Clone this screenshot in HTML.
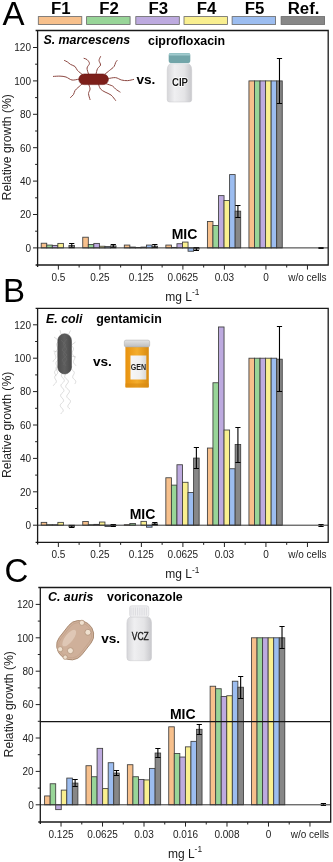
<!DOCTYPE html>
<html><head><meta charset="utf-8"><style>
html,body{margin:0;padding:0;background:#fff;}
svg{display:block;will-change:transform;}
</style></head><body>
<svg width="333" height="862" viewBox="0 0 333 862" font-family="Liberation Sans, sans-serif">
<rect width="333" height="862" fill="#fff"/>
<rect x="38.30" y="16.6" width="43.5" height="7.8" fill="#F7C08C" stroke="#666" stroke-width="0.8"/>
<text x="60.80" y="14.2" font-size="16.8" font-weight="bold" text-anchor="middle">F1</text>
<rect x="86.60" y="16.6" width="43.5" height="7.8" fill="#98D598" stroke="#666" stroke-width="0.8"/>
<text x="109.10" y="14.2" font-size="16.8" font-weight="bold" text-anchor="middle">F2</text>
<rect x="135.80" y="16.6" width="43.5" height="7.8" fill="#BDAADF" stroke="#666" stroke-width="0.8"/>
<text x="158.30" y="14.2" font-size="16.8" font-weight="bold" text-anchor="middle">F3</text>
<rect x="184.00" y="16.6" width="43.5" height="7.8" fill="#F9EF90" stroke="#666" stroke-width="0.8"/>
<text x="206.50" y="14.2" font-size="16.8" font-weight="bold" text-anchor="middle">F4</text>
<rect x="232.10" y="16.6" width="43.5" height="7.8" fill="#9CBDF0" stroke="#666" stroke-width="0.8"/>
<text x="254.60" y="14.2" font-size="16.8" font-weight="bold" text-anchor="middle">F5</text>
<rect x="281.10" y="16.6" width="43.5" height="7.8" fill="#878787" stroke="#666" stroke-width="0.8"/>
<text x="303.60" y="14.2" font-size="16.8" font-weight="bold" text-anchor="middle">Ref.</text>
<text x="2.6" y="25.20" font-size="33" >A</text>
<rect x="41.20" y="243.22" width="5.55" height="4.68" fill="#F7C08C" stroke="#3c3c3c" stroke-width="0.85"/>
<rect x="46.75" y="245.06" width="5.55" height="2.84" fill="#98D598" stroke="#3c3c3c" stroke-width="0.85"/>
<rect x="52.30" y="245.40" width="5.55" height="2.50" fill="#BDAADF" stroke="#3c3c3c" stroke-width="0.85"/>
<rect x="57.85" y="243.39" width="5.55" height="4.51" fill="#F9EF90" stroke="#3c3c3c" stroke-width="0.85"/>
<rect x="68.95" y="245.40" width="5.55" height="2.50" fill="#878787" stroke="#3c3c3c" stroke-width="0.85"/>
<path d="M71.73 243.50V247.50M69.13 243.50H74.33M69.13 247.50H74.33" stroke="#000" stroke-width="1.1" fill="none"/>
<rect x="82.75" y="237.21" width="5.55" height="10.69" fill="#F7C08C" stroke="#3c3c3c" stroke-width="0.85"/>
<rect x="88.30" y="244.56" width="5.55" height="3.34" fill="#98D598" stroke="#3c3c3c" stroke-width="0.85"/>
<rect x="93.85" y="243.39" width="5.55" height="4.51" fill="#BDAADF" stroke="#3c3c3c" stroke-width="0.85"/>
<rect x="99.40" y="246.23" width="5.55" height="1.67" fill="#F9EF90" stroke="#3c3c3c" stroke-width="0.85"/>
<rect x="104.95" y="246.56" width="5.55" height="1.34" fill="#9CBDF0" stroke="#3c3c3c" stroke-width="0.85"/>
<rect x="110.50" y="245.90" width="5.55" height="2.00" fill="#878787" stroke="#3c3c3c" stroke-width="0.85"/>
<path d="M113.28 244.50V247.50M110.68 244.50H115.88M110.68 247.50H115.88" stroke="#000" stroke-width="1.1" fill="none"/>
<rect x="124.30" y="245.06" width="5.55" height="2.84" fill="#F7C08C" stroke="#3c3c3c" stroke-width="0.85"/>
<rect x="129.85" y="247.06" width="5.55" height="0.84" fill="#98D598" stroke="#3c3c3c" stroke-width="0.85"/>
<rect x="135.40" y="247.57" width="5.55" height="0.33" fill="#BDAADF" stroke="#3c3c3c" stroke-width="0.85"/>
<rect x="140.95" y="247.06" width="5.55" height="0.84" fill="#F9EF90" stroke="#3c3c3c" stroke-width="0.85"/>
<rect x="146.50" y="245.06" width="5.55" height="2.84" fill="#9CBDF0" stroke="#3c3c3c" stroke-width="0.85"/>
<rect x="152.05" y="246.23" width="5.55" height="1.67" fill="#878787" stroke="#3c3c3c" stroke-width="0.85"/>
<path d="M154.82 244.50V247.50M152.22 244.50H157.42M152.22 247.50H157.42" stroke="#000" stroke-width="1.1" fill="none"/>
<rect x="165.85" y="245.06" width="5.55" height="2.84" fill="#F7C08C" stroke="#3c3c3c" stroke-width="0.85"/>
<rect x="171.40" y="247.40" width="5.55" height="0.50" fill="#98D598" stroke="#3c3c3c" stroke-width="0.85"/>
<rect x="176.95" y="243.72" width="5.55" height="4.18" fill="#BDAADF" stroke="#3c3c3c" stroke-width="0.85"/>
<rect x="182.50" y="242.06" width="5.55" height="5.84" fill="#F9EF90" stroke="#3c3c3c" stroke-width="0.85"/>
<rect x="188.05" y="247.90" width="5.55" height="3.34" fill="#9CBDF0" stroke="#3c3c3c" stroke-width="0.85"/>
<rect x="193.60" y="247.90" width="5.55" height="1.17" fill="#878787" stroke="#3c3c3c" stroke-width="0.85"/>
<path d="M196.38 247.50V250.50M193.78 247.50H198.97M193.78 250.50H198.97" stroke="#000" stroke-width="1.1" fill="none"/>
<rect x="207.40" y="221.51" width="5.55" height="26.39" fill="#F7C08C" stroke="#3c3c3c" stroke-width="0.85"/>
<rect x="212.95" y="225.52" width="5.55" height="22.38" fill="#98D598" stroke="#3c3c3c" stroke-width="0.85"/>
<rect x="218.50" y="195.63" width="5.55" height="52.27" fill="#BDAADF" stroke="#3c3c3c" stroke-width="0.85"/>
<rect x="224.05" y="200.47" width="5.55" height="47.43" fill="#F9EF90" stroke="#3c3c3c" stroke-width="0.85"/>
<rect x="229.60" y="174.59" width="5.55" height="73.31" fill="#9CBDF0" stroke="#3c3c3c" stroke-width="0.85"/>
<rect x="235.15" y="211.16" width="5.55" height="36.74" fill="#878787" stroke="#3c3c3c" stroke-width="0.85"/>
<path d="M237.92 205.50V217.50M235.32 205.50H240.52M235.32 217.50H240.52" stroke="#000" stroke-width="1.1" fill="none"/>
<rect x="248.95" y="80.90" width="5.55" height="167.00" fill="#F7C08C" stroke="#3c3c3c" stroke-width="0.85"/>
<rect x="254.50" y="80.90" width="5.55" height="167.00" fill="#98D598" stroke="#3c3c3c" stroke-width="0.85"/>
<rect x="260.05" y="80.90" width="5.55" height="167.00" fill="#BDAADF" stroke="#3c3c3c" stroke-width="0.85"/>
<rect x="265.60" y="80.90" width="5.55" height="167.00" fill="#F9EF90" stroke="#3c3c3c" stroke-width="0.85"/>
<rect x="271.15" y="80.90" width="5.55" height="167.00" fill="#9CBDF0" stroke="#3c3c3c" stroke-width="0.85"/>
<rect x="276.70" y="80.90" width="5.55" height="167.00" fill="#878787" stroke="#3c3c3c" stroke-width="0.85"/>
<path d="M279.48 58.50V103.50M276.88 58.50H282.08M276.88 103.50H282.08" stroke="#000" stroke-width="1.1" fill="none"/>
<path d="M321.02 247.50V248.50M318.42 247.50H323.62M318.42 248.50H323.62" stroke="#000" stroke-width="1.1" fill="none"/>
<line x1="37.60" y1="247.90" x2="328.20" y2="247.90" stroke="#333" stroke-width="1"/>
<path d="M35.60 30.50H328.20V265.00H35.60M37.60 30.50V267.00" stroke="#1a1a1a" stroke-width="1.3" fill="none"/>
<line x1="33.00" y1="247.90" x2="37.60" y2="247.90" stroke="#222" stroke-width="1"/>
<text x="31.00" y="251.70" font-size="10" text-anchor="end" fill="#222">0</text>
<line x1="35.10" y1="231.20" x2="37.60" y2="231.20" stroke="#222" stroke-width="1"/>
<line x1="33.00" y1="214.50" x2="37.60" y2="214.50" stroke="#222" stroke-width="1"/>
<text x="31.00" y="218.30" font-size="10" text-anchor="end" fill="#222">20</text>
<line x1="35.10" y1="197.80" x2="37.60" y2="197.80" stroke="#222" stroke-width="1"/>
<line x1="33.00" y1="181.10" x2="37.60" y2="181.10" stroke="#222" stroke-width="1"/>
<text x="31.00" y="184.90" font-size="10" text-anchor="end" fill="#222">40</text>
<line x1="35.10" y1="164.40" x2="37.60" y2="164.40" stroke="#222" stroke-width="1"/>
<line x1="33.00" y1="147.70" x2="37.60" y2="147.70" stroke="#222" stroke-width="1"/>
<text x="31.00" y="151.50" font-size="10" text-anchor="end" fill="#222">60</text>
<line x1="35.10" y1="131.00" x2="37.60" y2="131.00" stroke="#222" stroke-width="1"/>
<line x1="33.00" y1="114.30" x2="37.60" y2="114.30" stroke="#222" stroke-width="1"/>
<text x="31.00" y="118.10" font-size="10" text-anchor="end" fill="#222">80</text>
<line x1="35.10" y1="97.60" x2="37.60" y2="97.60" stroke="#222" stroke-width="1"/>
<line x1="33.00" y1="80.90" x2="37.60" y2="80.90" stroke="#222" stroke-width="1"/>
<text x="31.00" y="84.70" font-size="10" text-anchor="end" fill="#222">100</text>
<line x1="35.10" y1="64.20" x2="37.60" y2="64.20" stroke="#222" stroke-width="1"/>
<line x1="33.00" y1="47.50" x2="37.60" y2="47.50" stroke="#222" stroke-width="1"/>
<text x="31.00" y="51.30" font-size="10" text-anchor="end" fill="#222">120</text>
<line x1="79.11" y1="265.00" x2="79.11" y2="267.50" stroke="#222" stroke-width="1"/>
<line x1="120.63" y1="265.00" x2="120.63" y2="267.50" stroke="#222" stroke-width="1"/>
<line x1="162.14" y1="265.00" x2="162.14" y2="267.50" stroke="#222" stroke-width="1"/>
<line x1="203.66" y1="265.00" x2="203.66" y2="267.50" stroke="#222" stroke-width="1"/>
<line x1="245.17" y1="265.00" x2="245.17" y2="267.50" stroke="#222" stroke-width="1"/>
<line x1="286.69" y1="265.00" x2="286.69" y2="267.50" stroke="#222" stroke-width="1"/>
<line x1="58.36" y1="265.00" x2="58.36" y2="269.60" stroke="#222" stroke-width="1"/>
<text x="58.36" y="280.80" font-size="10" text-anchor="middle" fill="#222">0.5</text>
<line x1="99.87" y1="265.00" x2="99.87" y2="269.60" stroke="#222" stroke-width="1"/>
<text x="99.87" y="280.80" font-size="10" text-anchor="middle" fill="#222">0.25</text>
<line x1="141.39" y1="265.00" x2="141.39" y2="269.60" stroke="#222" stroke-width="1"/>
<text x="141.39" y="280.80" font-size="10" text-anchor="middle" fill="#222">0.125</text>
<line x1="182.90" y1="265.00" x2="182.90" y2="269.60" stroke="#222" stroke-width="1"/>
<text x="182.90" y="280.80" font-size="10" text-anchor="middle" fill="#222">0.0625</text>
<line x1="224.41" y1="265.00" x2="224.41" y2="269.60" stroke="#222" stroke-width="1"/>
<text x="224.41" y="280.80" font-size="10" text-anchor="middle" fill="#222">0.03</text>
<line x1="265.93" y1="265.00" x2="265.93" y2="269.60" stroke="#222" stroke-width="1"/>
<text x="265.93" y="280.80" font-size="10" text-anchor="middle" fill="#222">0</text>
<line x1="307.44" y1="265.00" x2="307.44" y2="269.60" stroke="#222" stroke-width="1"/>
<text x="307.44" y="280.80" font-size="10" text-anchor="middle" fill="#222">w/o cells</text>
<text x="182.40" y="300.50" font-size="12" text-anchor="middle" fill="#1a1a1a">mg L<tspan font-size="8.4" dy="-5.4">-1</tspan></text>
<text transform="translate(10.5,147.25) rotate(-90)" font-size="12.2" text-anchor="middle" fill="#222">Relative growth (%)</text>
<text x="184.50" y="239.00" font-size="14" font-weight="bold" text-anchor="middle">MIC</text>
<text x="2.9" y="302.20" font-size="33" >B</text>
<rect x="41.20" y="522.36" width="5.55" height="2.84" fill="#F7C08C" stroke="#3c3c3c" stroke-width="0.85"/>
<rect x="46.75" y="524.70" width="5.55" height="0.50" fill="#98D598" stroke="#3c3c3c" stroke-width="0.85"/>
<rect x="52.30" y="524.70" width="5.55" height="0.50" fill="#BDAADF" stroke="#3c3c3c" stroke-width="0.85"/>
<rect x="57.85" y="522.36" width="5.55" height="2.84" fill="#F9EF90" stroke="#3c3c3c" stroke-width="0.85"/>
<rect x="68.95" y="525.20" width="5.55" height="1.67" fill="#878787" stroke="#3c3c3c" stroke-width="0.85"/>
<path d="M71.73 525.50V527.50M69.13 525.50H74.33M69.13 527.50H74.33" stroke="#000" stroke-width="1.1" fill="none"/>
<rect x="82.75" y="521.53" width="5.55" height="3.67" fill="#F7C08C" stroke="#3c3c3c" stroke-width="0.85"/>
<rect x="88.30" y="524.70" width="5.55" height="0.50" fill="#98D598" stroke="#3c3c3c" stroke-width="0.85"/>
<rect x="93.85" y="524.37" width="5.55" height="0.84" fill="#BDAADF" stroke="#3c3c3c" stroke-width="0.85"/>
<rect x="99.40" y="522.03" width="5.55" height="3.17" fill="#F9EF90" stroke="#3c3c3c" stroke-width="0.85"/>
<rect x="104.95" y="525.20" width="5.55" height="1.34" fill="#9CBDF0" stroke="#3c3c3c" stroke-width="0.85"/>
<rect x="110.50" y="525.20" width="5.55" height="0.33" fill="#878787" stroke="#3c3c3c" stroke-width="0.85"/>
<path d="M113.28 524.50V526.50M110.68 524.50H115.88M110.68 526.50H115.88" stroke="#000" stroke-width="1.1" fill="none"/>
<rect x="124.30" y="524.70" width="5.55" height="0.50" fill="#F7C08C" stroke="#3c3c3c" stroke-width="0.85"/>
<rect x="129.85" y="523.53" width="5.55" height="1.67" fill="#98D598" stroke="#3c3c3c" stroke-width="0.85"/>
<rect x="140.95" y="521.36" width="5.55" height="3.84" fill="#F9EF90" stroke="#3c3c3c" stroke-width="0.85"/>
<rect x="146.50" y="525.20" width="5.55" height="2.00" fill="#9CBDF0" stroke="#3c3c3c" stroke-width="0.85"/>
<rect x="152.05" y="523.86" width="5.55" height="1.34" fill="#878787" stroke="#3c3c3c" stroke-width="0.85"/>
<path d="M154.82 522.50V524.50M152.22 522.50H157.42M152.22 524.50H157.42" stroke="#000" stroke-width="1.1" fill="none"/>
<rect x="165.85" y="477.77" width="5.55" height="47.43" fill="#F7C08C" stroke="#3c3c3c" stroke-width="0.85"/>
<rect x="171.40" y="485.12" width="5.55" height="40.08" fill="#98D598" stroke="#3c3c3c" stroke-width="0.85"/>
<rect x="176.95" y="464.75" width="5.55" height="60.45" fill="#BDAADF" stroke="#3c3c3c" stroke-width="0.85"/>
<rect x="182.50" y="482.28" width="5.55" height="42.92" fill="#F9EF90" stroke="#3c3c3c" stroke-width="0.85"/>
<rect x="188.05" y="492.47" width="5.55" height="32.73" fill="#9CBDF0" stroke="#3c3c3c" stroke-width="0.85"/>
<rect x="193.60" y="458.07" width="5.55" height="67.13" fill="#878787" stroke="#3c3c3c" stroke-width="0.85"/>
<path d="M196.38 447.50V468.50M193.78 447.50H198.97M193.78 468.50H198.97" stroke="#000" stroke-width="1.1" fill="none"/>
<rect x="207.40" y="448.05" width="5.55" height="77.15" fill="#F7C08C" stroke="#3c3c3c" stroke-width="0.85"/>
<rect x="212.95" y="382.75" width="5.55" height="142.45" fill="#98D598" stroke="#3c3c3c" stroke-width="0.85"/>
<rect x="218.50" y="326.97" width="5.55" height="198.23" fill="#BDAADF" stroke="#3c3c3c" stroke-width="0.85"/>
<rect x="224.05" y="430.01" width="5.55" height="95.19" fill="#F9EF90" stroke="#3c3c3c" stroke-width="0.85"/>
<rect x="229.60" y="468.75" width="5.55" height="56.45" fill="#9CBDF0" stroke="#3c3c3c" stroke-width="0.85"/>
<rect x="235.15" y="444.54" width="5.55" height="80.66" fill="#878787" stroke="#3c3c3c" stroke-width="0.85"/>
<path d="M237.92 427.50V462.50M235.32 427.50H240.52M235.32 462.50H240.52" stroke="#000" stroke-width="1.1" fill="none"/>
<rect x="248.95" y="358.20" width="5.55" height="167.00" fill="#F7C08C" stroke="#3c3c3c" stroke-width="0.85"/>
<rect x="254.50" y="358.20" width="5.55" height="167.00" fill="#98D598" stroke="#3c3c3c" stroke-width="0.85"/>
<rect x="260.05" y="358.20" width="5.55" height="167.00" fill="#BDAADF" stroke="#3c3c3c" stroke-width="0.85"/>
<rect x="265.60" y="358.20" width="5.55" height="167.00" fill="#F9EF90" stroke="#3c3c3c" stroke-width="0.85"/>
<rect x="271.15" y="358.20" width="5.55" height="167.00" fill="#9CBDF0" stroke="#3c3c3c" stroke-width="0.85"/>
<rect x="276.70" y="359.20" width="5.55" height="166.00" fill="#878787" stroke="#3c3c3c" stroke-width="0.85"/>
<path d="M279.48 326.50V391.50M276.88 326.50H282.08M276.88 391.50H282.08" stroke="#000" stroke-width="1.1" fill="none"/>
<path d="M321.02 524.50V526.50M318.42 524.50H323.62M318.42 526.50H323.62" stroke="#000" stroke-width="1.1" fill="none"/>
<line x1="37.60" y1="525.20" x2="328.20" y2="525.20" stroke="#333" stroke-width="1"/>
<path d="M35.60 308.30H328.20V542.40H35.60M37.60 308.30V544.40" stroke="#1a1a1a" stroke-width="1.3" fill="none"/>
<line x1="33.00" y1="525.20" x2="37.60" y2="525.20" stroke="#222" stroke-width="1"/>
<text x="31.00" y="529.00" font-size="10" text-anchor="end" fill="#222">0</text>
<line x1="35.10" y1="508.50" x2="37.60" y2="508.50" stroke="#222" stroke-width="1"/>
<line x1="33.00" y1="491.80" x2="37.60" y2="491.80" stroke="#222" stroke-width="1"/>
<text x="31.00" y="495.60" font-size="10" text-anchor="end" fill="#222">20</text>
<line x1="35.10" y1="475.10" x2="37.60" y2="475.10" stroke="#222" stroke-width="1"/>
<line x1="33.00" y1="458.40" x2="37.60" y2="458.40" stroke="#222" stroke-width="1"/>
<text x="31.00" y="462.20" font-size="10" text-anchor="end" fill="#222">40</text>
<line x1="35.10" y1="441.70" x2="37.60" y2="441.70" stroke="#222" stroke-width="1"/>
<line x1="33.00" y1="425.00" x2="37.60" y2="425.00" stroke="#222" stroke-width="1"/>
<text x="31.00" y="428.80" font-size="10" text-anchor="end" fill="#222">60</text>
<line x1="35.10" y1="408.30" x2="37.60" y2="408.30" stroke="#222" stroke-width="1"/>
<line x1="33.00" y1="391.60" x2="37.60" y2="391.60" stroke="#222" stroke-width="1"/>
<text x="31.00" y="395.40" font-size="10" text-anchor="end" fill="#222">80</text>
<line x1="35.10" y1="374.90" x2="37.60" y2="374.90" stroke="#222" stroke-width="1"/>
<line x1="33.00" y1="358.20" x2="37.60" y2="358.20" stroke="#222" stroke-width="1"/>
<text x="31.00" y="362.00" font-size="10" text-anchor="end" fill="#222">100</text>
<line x1="35.10" y1="341.50" x2="37.60" y2="341.50" stroke="#222" stroke-width="1"/>
<line x1="33.00" y1="324.80" x2="37.60" y2="324.80" stroke="#222" stroke-width="1"/>
<text x="31.00" y="328.60" font-size="10" text-anchor="end" fill="#222">120</text>
<line x1="79.11" y1="542.40" x2="79.11" y2="544.90" stroke="#222" stroke-width="1"/>
<line x1="120.63" y1="542.40" x2="120.63" y2="544.90" stroke="#222" stroke-width="1"/>
<line x1="162.14" y1="542.40" x2="162.14" y2="544.90" stroke="#222" stroke-width="1"/>
<line x1="203.66" y1="542.40" x2="203.66" y2="544.90" stroke="#222" stroke-width="1"/>
<line x1="245.17" y1="542.40" x2="245.17" y2="544.90" stroke="#222" stroke-width="1"/>
<line x1="286.69" y1="542.40" x2="286.69" y2="544.90" stroke="#222" stroke-width="1"/>
<line x1="58.36" y1="542.40" x2="58.36" y2="547.00" stroke="#222" stroke-width="1"/>
<text x="58.36" y="558.20" font-size="10" text-anchor="middle" fill="#222">0.5</text>
<line x1="99.87" y1="542.40" x2="99.87" y2="547.00" stroke="#222" stroke-width="1"/>
<text x="99.87" y="558.20" font-size="10" text-anchor="middle" fill="#222">0.25</text>
<line x1="141.39" y1="542.40" x2="141.39" y2="547.00" stroke="#222" stroke-width="1"/>
<text x="141.39" y="558.20" font-size="10" text-anchor="middle" fill="#222">0.125</text>
<line x1="182.90" y1="542.40" x2="182.90" y2="547.00" stroke="#222" stroke-width="1"/>
<text x="182.90" y="558.20" font-size="10" text-anchor="middle" fill="#222">0.0625</text>
<line x1="224.41" y1="542.40" x2="224.41" y2="547.00" stroke="#222" stroke-width="1"/>
<text x="224.41" y="558.20" font-size="10" text-anchor="middle" fill="#222">0.03</text>
<line x1="265.93" y1="542.40" x2="265.93" y2="547.00" stroke="#222" stroke-width="1"/>
<text x="265.93" y="558.20" font-size="10" text-anchor="middle" fill="#222">0</text>
<line x1="307.44" y1="542.40" x2="307.44" y2="547.00" stroke="#222" stroke-width="1"/>
<text x="307.44" y="558.20" font-size="10" text-anchor="middle" fill="#222">w/o cells</text>
<text x="182.40" y="577.90" font-size="12" text-anchor="middle" fill="#1a1a1a">mg L<tspan font-size="8.4" dy="-5.4">-1</tspan></text>
<text transform="translate(10.5,424.85) rotate(-90)" font-size="12.2" text-anchor="middle" fill="#222">Relative growth (%)</text>
<text x="142.50" y="518.70" font-size="14" font-weight="bold" text-anchor="middle">MIC</text>
<text x="4.6" y="582.20" font-size="33" >C</text>
<rect x="44.60" y="795.95" width="5.55" height="8.85" fill="#F7C08C" stroke="#3c3c3c" stroke-width="0.85"/>
<rect x="50.15" y="783.76" width="5.55" height="21.04" fill="#98D598" stroke="#3c3c3c" stroke-width="0.85"/>
<rect x="55.70" y="804.80" width="5.55" height="4.84" fill="#BDAADF" stroke="#3c3c3c" stroke-width="0.85"/>
<rect x="61.25" y="790.10" width="5.55" height="14.70" fill="#F9EF90" stroke="#3c3c3c" stroke-width="0.85"/>
<rect x="66.80" y="778.08" width="5.55" height="26.72" fill="#9CBDF0" stroke="#3c3c3c" stroke-width="0.85"/>
<rect x="72.35" y="783.09" width="5.55" height="21.71" fill="#878787" stroke="#3c3c3c" stroke-width="0.85"/>
<path d="M75.12 779.50V786.50M72.53 779.50H77.72M72.53 786.50H77.72" stroke="#000" stroke-width="1.1" fill="none"/>
<rect x="85.98" y="765.72" width="5.55" height="39.08" fill="#F7C08C" stroke="#3c3c3c" stroke-width="0.85"/>
<rect x="91.53" y="776.74" width="5.55" height="28.06" fill="#98D598" stroke="#3c3c3c" stroke-width="0.85"/>
<rect x="97.08" y="748.35" width="5.55" height="56.45" fill="#BDAADF" stroke="#3c3c3c" stroke-width="0.85"/>
<rect x="102.63" y="788.60" width="5.55" height="16.20" fill="#F9EF90" stroke="#3c3c3c" stroke-width="0.85"/>
<rect x="108.18" y="762.72" width="5.55" height="42.08" fill="#9CBDF0" stroke="#3c3c3c" stroke-width="0.85"/>
<rect x="113.73" y="773.07" width="5.55" height="31.73" fill="#878787" stroke="#3c3c3c" stroke-width="0.85"/>
<path d="M116.50 770.50V775.50M113.91 770.50H119.10M113.91 775.50H119.10" stroke="#000" stroke-width="1.1" fill="none"/>
<rect x="127.36" y="764.72" width="5.55" height="40.08" fill="#F7C08C" stroke="#3c3c3c" stroke-width="0.85"/>
<rect x="132.91" y="776.74" width="5.55" height="28.06" fill="#98D598" stroke="#3c3c3c" stroke-width="0.85"/>
<rect x="138.46" y="779.42" width="5.55" height="25.38" fill="#BDAADF" stroke="#3c3c3c" stroke-width="0.85"/>
<rect x="144.01" y="779.92" width="5.55" height="24.88" fill="#F9EF90" stroke="#3c3c3c" stroke-width="0.85"/>
<rect x="149.56" y="768.39" width="5.55" height="36.41" fill="#9CBDF0" stroke="#3c3c3c" stroke-width="0.85"/>
<rect x="155.11" y="753.03" width="5.55" height="51.77" fill="#878787" stroke="#3c3c3c" stroke-width="0.85"/>
<path d="M157.88 748.50V757.50M155.28 748.50H160.48M155.28 757.50H160.48" stroke="#000" stroke-width="1.1" fill="none"/>
<rect x="168.74" y="726.81" width="5.55" height="77.99" fill="#F7C08C" stroke="#3c3c3c" stroke-width="0.85"/>
<rect x="174.29" y="753.53" width="5.55" height="51.27" fill="#98D598" stroke="#3c3c3c" stroke-width="0.85"/>
<rect x="179.84" y="757.04" width="5.55" height="47.76" fill="#BDAADF" stroke="#3c3c3c" stroke-width="0.85"/>
<rect x="185.39" y="746.85" width="5.55" height="57.95" fill="#F9EF90" stroke="#3c3c3c" stroke-width="0.85"/>
<rect x="190.94" y="741.34" width="5.55" height="63.46" fill="#9CBDF0" stroke="#3c3c3c" stroke-width="0.85"/>
<rect x="196.49" y="729.32" width="5.55" height="75.48" fill="#878787" stroke="#3c3c3c" stroke-width="0.85"/>
<path d="M199.27 724.50V734.50M196.67 724.50H201.87M196.67 734.50H201.87" stroke="#000" stroke-width="1.1" fill="none"/>
<rect x="210.12" y="686.23" width="5.55" height="118.57" fill="#F7C08C" stroke="#3c3c3c" stroke-width="0.85"/>
<rect x="215.67" y="688.73" width="5.55" height="116.07" fill="#98D598" stroke="#3c3c3c" stroke-width="0.85"/>
<rect x="221.22" y="696.42" width="5.55" height="108.38" fill="#BDAADF" stroke="#3c3c3c" stroke-width="0.85"/>
<rect x="226.77" y="695.75" width="5.55" height="109.05" fill="#F9EF90" stroke="#3c3c3c" stroke-width="0.85"/>
<rect x="232.32" y="681.22" width="5.55" height="123.58" fill="#9CBDF0" stroke="#3c3c3c" stroke-width="0.85"/>
<rect x="237.87" y="687.23" width="5.55" height="117.57" fill="#878787" stroke="#3c3c3c" stroke-width="0.85"/>
<path d="M240.65 676.50V698.50M238.05 676.50H243.25M238.05 698.50H243.25" stroke="#000" stroke-width="1.1" fill="none"/>
<rect x="251.50" y="637.80" width="5.55" height="167.00" fill="#F7C08C" stroke="#3c3c3c" stroke-width="0.85"/>
<rect x="257.05" y="637.80" width="5.55" height="167.00" fill="#98D598" stroke="#3c3c3c" stroke-width="0.85"/>
<rect x="262.60" y="637.80" width="5.55" height="167.00" fill="#BDAADF" stroke="#3c3c3c" stroke-width="0.85"/>
<rect x="268.15" y="637.80" width="5.55" height="167.00" fill="#F9EF90" stroke="#3c3c3c" stroke-width="0.85"/>
<rect x="273.70" y="637.80" width="5.55" height="167.00" fill="#9CBDF0" stroke="#3c3c3c" stroke-width="0.85"/>
<rect x="279.25" y="637.80" width="5.55" height="167.00" fill="#878787" stroke="#3c3c3c" stroke-width="0.85"/>
<path d="M282.02 626.50V648.50M279.42 626.50H284.62M279.42 648.50H284.62" stroke="#000" stroke-width="1.1" fill="none"/>
<path d="M323.41 803.50V805.50M320.81 803.50H326.01M320.81 805.50H326.01" stroke="#000" stroke-width="1.1" fill="none"/>
<line x1="40.30" y1="804.80" x2="330.70" y2="804.80" stroke="#333" stroke-width="1"/>
<line x1="40.30" y1="721.60" x2="330.70" y2="721.60" stroke="#151515" stroke-width="1.2"/>
<path d="M38.30 587.50H330.70V822.00H38.30M40.30 587.50V824.00" stroke="#1a1a1a" stroke-width="1.3" fill="none"/>
<line x1="35.70" y1="804.80" x2="40.30" y2="804.80" stroke="#222" stroke-width="1"/>
<text x="33.70" y="808.60" font-size="10" text-anchor="end" fill="#222">0</text>
<line x1="37.80" y1="788.10" x2="40.30" y2="788.10" stroke="#222" stroke-width="1"/>
<line x1="35.70" y1="771.40" x2="40.30" y2="771.40" stroke="#222" stroke-width="1"/>
<text x="33.70" y="775.20" font-size="10" text-anchor="end" fill="#222">20</text>
<line x1="37.80" y1="754.70" x2="40.30" y2="754.70" stroke="#222" stroke-width="1"/>
<line x1="35.70" y1="738.00" x2="40.30" y2="738.00" stroke="#222" stroke-width="1"/>
<text x="33.70" y="741.80" font-size="10" text-anchor="end" fill="#222">40</text>
<line x1="37.80" y1="721.30" x2="40.30" y2="721.30" stroke="#222" stroke-width="1"/>
<line x1="35.70" y1="704.60" x2="40.30" y2="704.60" stroke="#222" stroke-width="1"/>
<text x="33.70" y="708.40" font-size="10" text-anchor="end" fill="#222">60</text>
<line x1="37.80" y1="687.90" x2="40.30" y2="687.90" stroke="#222" stroke-width="1"/>
<line x1="35.70" y1="671.20" x2="40.30" y2="671.20" stroke="#222" stroke-width="1"/>
<text x="33.70" y="675.00" font-size="10" text-anchor="end" fill="#222">80</text>
<line x1="37.80" y1="654.50" x2="40.30" y2="654.50" stroke="#222" stroke-width="1"/>
<line x1="35.70" y1="637.80" x2="40.30" y2="637.80" stroke="#222" stroke-width="1"/>
<text x="33.70" y="641.60" font-size="10" text-anchor="end" fill="#222">100</text>
<line x1="37.80" y1="621.10" x2="40.30" y2="621.10" stroke="#222" stroke-width="1"/>
<line x1="35.70" y1="604.40" x2="40.30" y2="604.40" stroke="#222" stroke-width="1"/>
<text x="33.70" y="608.20" font-size="10" text-anchor="end" fill="#222">120</text>
<line x1="81.79" y1="822.00" x2="81.79" y2="824.50" stroke="#222" stroke-width="1"/>
<line x1="123.27" y1="822.00" x2="123.27" y2="824.50" stroke="#222" stroke-width="1"/>
<line x1="164.76" y1="822.00" x2="164.76" y2="824.50" stroke="#222" stroke-width="1"/>
<line x1="206.24" y1="822.00" x2="206.24" y2="824.50" stroke="#222" stroke-width="1"/>
<line x1="247.73" y1="822.00" x2="247.73" y2="824.50" stroke="#222" stroke-width="1"/>
<line x1="289.21" y1="822.00" x2="289.21" y2="824.50" stroke="#222" stroke-width="1"/>
<line x1="61.04" y1="822.00" x2="61.04" y2="826.60" stroke="#222" stroke-width="1"/>
<text x="61.04" y="837.80" font-size="10" text-anchor="middle" fill="#222">0.125</text>
<line x1="102.53" y1="822.00" x2="102.53" y2="826.60" stroke="#222" stroke-width="1"/>
<text x="102.53" y="837.80" font-size="10" text-anchor="middle" fill="#222">0.0625</text>
<line x1="144.01" y1="822.00" x2="144.01" y2="826.60" stroke="#222" stroke-width="1"/>
<text x="144.01" y="837.80" font-size="10" text-anchor="middle" fill="#222">0.03</text>
<line x1="185.50" y1="822.00" x2="185.50" y2="826.60" stroke="#222" stroke-width="1"/>
<text x="185.50" y="837.80" font-size="10" text-anchor="middle" fill="#222">0.016</text>
<line x1="226.99" y1="822.00" x2="226.99" y2="826.60" stroke="#222" stroke-width="1"/>
<text x="226.99" y="837.80" font-size="10" text-anchor="middle" fill="#222">0.008</text>
<line x1="268.47" y1="822.00" x2="268.47" y2="826.60" stroke="#222" stroke-width="1"/>
<text x="268.47" y="837.80" font-size="10" text-anchor="middle" fill="#222">0</text>
<line x1="309.96" y1="822.00" x2="309.96" y2="826.60" stroke="#222" stroke-width="1"/>
<text x="309.96" y="837.80" font-size="10" text-anchor="middle" fill="#222">w/o cells</text>
<text x="185.00" y="857.50" font-size="12" text-anchor="middle" fill="#1a1a1a">mg L<tspan font-size="8.4" dy="-5.4">-1</tspan></text>
<text transform="translate(12.9,704.25) rotate(-90)" font-size="12.2" text-anchor="middle" fill="#222">Relative growth (%)</text>
<text x="182.80" y="718.50" font-size="14" font-weight="bold" text-anchor="middle">MIC</text>
<text x="43.4" y="44.1" font-size="12.4" font-weight="bold" font-style="italic">S. marcescens</text>
<text x="148" y="44.6" font-size="12.4" font-weight="bold">ciprofloxacin</text>
<text x="46" y="323" font-size="12.4" font-weight="bold" font-style="italic">E. coli</text>
<text x="96.3" y="323" font-size="12.4" font-weight="bold">gentamicin</text>
<text x="48" y="600.6" font-size="12.4" font-weight="bold" font-style="italic">C. auris</text>
<text x="107" y="600.6" font-size="12.4" font-weight="bold">voriconazole</text>
<text x="136.5" y="84" font-size="13.6" font-weight="bold">vs.</text>
<text x="93" y="365.5" font-size="13.6" font-weight="bold">vs.</text>
<text x="101.2" y="642.8" font-size="13.6" font-weight="bold">vs.</text>
<path d="M82.54 74.62 C81.69 73.92 78.68 71.77 77.43 70.42 C76.18 69.07 76.18 67.52 75.03 66.52 C73.88 65.52 71.78 65.17 70.53 64.41 C69.27 63.66 68.52 62.66 67.52 62.01 C66.52 61.36 65.02 60.76 64.52 60.51" stroke="#8c4741" stroke-width="1.0" fill="none" stroke-linecap="round"/>
<path d="M88.54 74.02 C88.29 73.02 86.89 69.77 87.04 68.02 C87.19 66.27 89.44 64.91 89.44 63.51 C89.44 62.11 87.94 60.46 87.04 59.61 C86.14 58.76 84.54 58.61 84.04 58.41" stroke="#8c4741" stroke-width="1.0" fill="none" stroke-linecap="round"/>
<path d="M96.05 74.02 C96.30 73.12 96.80 70.12 97.55 68.62 C98.30 67.12 100.31 66.37 100.56 65.02 C100.81 63.66 99.05 61.91 99.05 60.51 C99.05 59.11 100.31 57.26 100.56 56.61" stroke="#8c4741" stroke-width="1.0" fill="none" stroke-linecap="round"/>
<path d="M105.06 74.02 C105.81 73.42 108.06 71.67 109.56 70.42 C111.07 69.17 113.07 67.82 114.07 66.52 C115.07 65.22 115.07 63.61 115.57 62.61 C116.07 61.61 116.82 60.86 117.07 60.51" stroke="#8c4741" stroke-width="1.0" fill="none" stroke-linecap="round"/>
<path d="M78.63 79.13 C77.53 79.28 74.13 80.38 72.03 80.03 C69.92 79.68 68.02 77.68 66.02 77.03 C64.02 76.38 62.12 76.23 60.02 76.13 C57.91 76.03 54.51 76.38 53.41 76.43" stroke="#8c4741" stroke-width="1.0" fill="none" stroke-linecap="round"/>
<path d="M82.54 83.63 C81.79 84.28 79.28 86.39 78.03 87.54 C76.78 88.69 75.78 89.39 75.03 90.54 C74.28 91.69 74.28 93.29 73.53 94.44 C72.78 95.60 71.03 96.95 70.53 97.45" stroke="#8c4741" stroke-width="1.0" fill="none" stroke-linecap="round"/>
<path d="M88.54 83.93 C88.79 84.78 90.05 87.44 90.05 89.04 C90.05 90.64 88.54 91.79 88.54 93.54 C88.54 95.30 89.79 98.55 90.05 99.55" stroke="#8c4741" stroke-width="1.0" fill="none" stroke-linecap="round"/>
<path d="M98.45 83.93 C98.80 84.78 99.45 87.69 100.56 89.04 C101.66 90.39 103.31 91.04 105.06 92.04 C106.81 93.04 109.31 93.64 111.07 95.05 C112.82 96.45 114.82 99.55 115.57 100.45" stroke="#8c4741" stroke-width="1.0" fill="none" stroke-linecap="round"/>
<path d="M106.56 83.93 C107.56 84.28 111.07 85.19 112.57 86.04 C114.07 86.89 114.32 88.04 115.57 89.04 C116.82 90.04 119.32 91.54 120.08 92.04" stroke="#8c4741" stroke-width="1.0" fill="none" stroke-linecap="round"/>
<path d="M108.66 78.53 C109.81 78.38 113.42 77.38 115.57 77.63 C117.72 77.88 119.57 79.53 121.58 80.03 C123.58 80.53 125.58 80.73 127.58 80.63 C129.58 80.53 132.59 79.63 133.59 79.43" stroke="#8c4741" stroke-width="1.0" fill="none" stroke-linecap="round"/>
<rect x="78.8" y="74" width="29.6" height="10.6" rx="5.3" fill="#7d1f1a" stroke="#6a1612" stroke-width="0.6"/>
<defs><linearGradient id="bg1" x1="0" x2="1" y1="0" y2="0"><stop offset="0" stop-color="#d6d6d9"/><stop offset="0.3" stop-color="#efeff1"/><stop offset="0.7" stop-color="#e4e4e6"/><stop offset="1" stop-color="#c8c8cc"/></linearGradient><linearGradient id="or" x1="0" x2="1"><stop offset="0" stop-color="#e8920f"/><stop offset="0.5" stop-color="#f4ad2c"/><stop offset="1" stop-color="#d88a10"/></linearGradient></defs>
<path d="M167.2 70 Q167.2 62.9 174 62.9 H185 Q191.7 62.9 191.7 70 V99.5 Q191.7 102 189.2 102 H169.7 Q167.2 102 167.2 99.5 Z" fill="url(#bg1)" stroke="#c8c8cc" stroke-width="0.5"/>
<rect x="170" y="62.4" width="19" height="2" fill="#dfe6e8"/>
<rect x="168.7" y="53" width="21.6" height="10" rx="2" fill="#72a5a9"/>
<rect x="168.9" y="53.2" width="21.2" height="2.4" rx="1.2" fill="#9fcacd"/>
<text x="180" y="86.1" font-size="10.8" font-weight="bold" textLength="16" lengthAdjust="spacingAndGlyphs" text-anchor="middle" fill="#151515" stroke="#fff" stroke-width="1.4" paint-order="stroke">CIP</text>
<g stroke="#c4c4c4" stroke-width="0.6" fill="none"><path d="M57.50 366.00 L56.77 366.68 L56.22 367.38 L55.97 368.13 L56.06 368.93 L56.43 369.77 L56.95 370.64 L57.42 371.49 L57.68 372.32 L57.63 373.10 L57.24 373.83 L56.59 374.52 L55.84 375.19 L55.17 375.88 L54.74 376.60 L54.63 377.37 L54.86 378.19 L55.31 379.04 L55.83 379.91 L56.23 380.75 L56.37 381.56 L56.17 382.32 L55.65 383.03 L54.94 383.71 L54.20 384.38 L53.61 385.08 L53.31 385.82"/><path d="M72.00 366.00 L71.53 366.85 L71.22 367.67 L71.19 368.45 L71.49 369.17 L72.07 369.84 L72.80 370.49 L73.52 371.14 L74.06 371.82 L74.31 372.55 L74.23 373.34 L73.88 374.17 L73.40 375.02 L72.94 375.86 L72.67 376.68 L72.70 377.45 L73.05 378.16 L73.66 378.83 L74.40 379.47 L75.10 380.13 L75.60 380.82 L75.80 381.55 L75.67 382.35 L75.29 383.18 L74.80 384.03"/><path d="M63.00 373.00 L62.17 373.81 L61.55 374.62 L61.31 375.45 L61.50 376.30 L62.06 377.16 L62.84 378.02 L63.61 378.89 L64.16 379.75 L64.32 380.59 L64.06 381.42 L63.42 382.23 L62.58 383.04 L61.76 383.85 L61.16 384.66 L60.94 385.49 L61.16 386.34 L61.74 387.20 L62.52 388.06 L63.28 388.93 L63.81 389.79 L63.95 390.63 L63.67 391.46 L63.01 392.27 L62.17 393.08 L61.35 393.89 L60.77 394.70 L60.58 395.53 L60.82 396.38 L61.41 397.24 L62.20 398.11 L62.95 398.97 L63.46 399.83 L63.58 400.67 L63.27 401.50 L62.60 402.31 L61.75 403.12 L60.94 403.93 L60.38 404.74 L60.21 405.57 L60.48 406.42 L61.09 407.28 L61.88 408.15 L62.63 409.01 L63.12 409.87 L63.21 410.71 L62.88 411.54 L62.19 412.35 L61.34 413.16 L60.54 413.96"/><path d="M66.00 374.00 L65.29 374.92 L64.79 375.81 L64.67 376.67 L64.98 377.48 L65.67 378.25 L66.56 379.00 L67.44 379.75 L68.10 380.52 L68.38 381.33 L68.24 382.19 L67.72 383.09 L67.00 384.01 L66.30 384.92 L65.82 385.82 L65.73 386.67 L66.07 387.47 L66.77 388.24 L67.67 388.99 L68.54 389.74 L69.18 390.52 L69.44 391.33 L69.26 392.19 L68.73 393.09 L68.00 394.01 L67.31 394.93 L66.86 395.82 L66.79 396.67 L67.16 397.47 L67.88 398.24 L68.78 398.99 L69.65 399.74 L70.27 400.51 L70.49 401.33 L70.29 402.20 L69.73 403.10 L69.00 404.02 L68.32 404.93 L67.89 405.82 L67.85 406.67 L68.25 407.47 L68.99 408.23 L69.89 408.98"/><path d="M58.00 342.00 L57.36 342.64 L56.85 343.31 L56.58 344.03 L56.57 344.79 L56.79 345.61 L57.13 346.45 L57.48 347.29 L57.68 348.10 L57.65 348.86 L57.35 349.57 L56.82 350.24 L56.18 350.88 L55.54 351.52 L55.05 352.20 L54.80 352.92 L54.81 353.69 L55.05 354.51 L55.40 355.35 L55.74 356.18 L55.92 356.99 L55.87 357.75 L55.55 358.46 L55.01 359.12 L54.36 359.76 L53.73 360.40 L53.25 361.08 L53.02 361.80"/><path d="M71.50 342.00 L71.11 342.82 L70.86 343.63 L70.84 344.39 L71.09 345.12 L71.58 345.82 L72.19 346.50 L72.79 347.17 L73.25 347.87 L73.47 348.61 L73.42 349.38 L73.14 350.19 L72.75 351.01 L72.37 351.83 L72.14 352.63 L72.15 353.39 L72.44 354.12 L72.95 354.81 L73.57 355.49 L74.16 356.17 L74.59 356.87 L74.78 357.61 L74.70 358.38 L74.40 359.19 L73.99 360.02 L73.63 360.84 L73.42 361.63 L73.47 362.39 L73.79 363.11 L74.32 363.80 L74.94 364.48 L75.52 365.16 L75.93 365.86"/><path d="M58.50 352.00 L57.89 352.68 L57.42 353.37 L57.18 354.11 L57.22 354.88 L57.48 355.68 L57.88 356.50 L58.26 357.33 L58.50 358.13 L58.50 358.89 L58.23 359.62 L57.74 360.31 L57.12 360.99 L56.52 361.67 L56.08 362.37 L55.87 363.11 L55.94 363.88 L56.23 364.69 L56.63 365.51 L57.00 366.33 L57.22 367.13 L57.19 367.89 L56.88 368.62 L56.37 369.31 L55.74 369.98 L55.16 370.66 L54.74 371.37 L54.57 372.11 L54.67 372.89 L54.98 373.70 L55.38 374.52 L55.74 375.34 L55.93 376.14"/><path d="M58 340 L54 337 M57.8 352 L53.5 351 M71.5 345 L75.5 342 M71.5 356 L76 357 M61 334 L60 330 M68.5 334.5 L70.5 330.5"/></g>
<defs><linearGradient id="ec" x1="0" x2="1"><stop offset="0" stop-color="#4e4e4e"/><stop offset="0.5" stop-color="#5e5e5e"/><stop offset="1" stop-color="#4a4a4a"/></linearGradient></defs>
<rect x="57.8" y="333.7" width="13.7" height="40.3" rx="6.85" fill="url(#ec)" stroke="#444" stroke-width="0.5"/>
<g stroke="#6a6a6a" stroke-width="0.7" fill="none" opacity="0.8"><path d="M61 340 L66 345 L62 350 L67 355 L62 360 L66 366"/><path d="M67 339 L63 344 L67 349 L63 354 L67 359 L63 365"/></g>
<defs><linearGradient id="capg" x1="0" x2="0" y1="0" y2="1"><stop offset="0" stop-color="#e4e4e4"/><stop offset="1" stop-color="#bdbdbd"/></linearGradient><linearGradient id="lab" x1="0" x2="1"><stop offset="0" stop-color="#f7f7f7"/><stop offset="0.6" stop-color="#f0f0f0"/><stop offset="1" stop-color="#d8d8d8"/></linearGradient></defs>
<rect x="125.4" y="346.4" width="23.4" height="41.1" rx="1" fill="url(#or)"/>
<rect x="125.4" y="383.5" width="23.4" height="4" fill="#d98a12" opacity="0.6"/>
<rect x="124.3" y="340.1" width="25.4" height="6.9" rx="1.8" fill="url(#capg)" stroke="#a8a8a8" stroke-width="0.5"/>
<rect x="130.5" y="355.5" width="15.8" height="24" fill="url(#lab)"/>
<text x="138.4" y="369.6" font-size="9" font-weight="bold" textLength="15.4" lengthAdjust="spacingAndGlyphs" text-anchor="middle" fill="#1e1e1e">GEN</text>
<g transform="translate(75.2 640.2) rotate(-52)"><rect x="-21" y="-14.2" width="42" height="28.4" rx="13.5" ry="14.2" fill="#cfb09a" stroke="#a98a72" stroke-width="0.9"/><rect x="-19" y="-12.2" width="38" height="24.4" rx="11.5" ry="12.2" fill="none" stroke="#c09f88" stroke-width="0.6"/><ellipse cx="-2" cy="-6" rx="10" ry="4" fill="#e2cdbb" opacity="0.8"/></g>
<circle cx="81.9" cy="622.8" r="2.6" fill="#efe0cf" stroke="#b3947c" stroke-width="0.8"/>
<circle cx="87.9" cy="632.3" r="3.0" fill="#efe0cf" stroke="#b3947c" stroke-width="0.8"/>
<circle cx="60.2" cy="649.2" r="2.6" fill="#efe0cf" stroke="#b3947c" stroke-width="0.8"/>
<circle cx="70.4" cy="650.7" r="3.0" fill="#efe0cf" stroke="#b3947c" stroke-width="0.8"/>
<circle cx="65.2" cy="657.2" r="2.2" fill="#efe0cf" stroke="#b3947c" stroke-width="0.8"/>
<path d="M126.9 623 Q126.9 616.6 133 616.6 H145.4 Q151.5 616.6 151.5 623 V657.7 Q151.5 660.7 148.5 660.7 H129.9 Q126.9 660.7 126.9 657.7 Z" fill="url(#bg1)" stroke="#c8c8cc" stroke-width="0.5"/>
<rect x="129.6" y="605.8" width="19.2" height="11.2" rx="2.2" fill="#efeff1" stroke="#c8c8cc" stroke-width="0.5"/>
<g stroke="#cfcfd3" stroke-width="0.6"><line x1="131.0" y1="607.5" x2="131.0" y2="615.5"/><line x1="133.2" y1="607.5" x2="133.2" y2="615.5"/><line x1="135.4" y1="607.5" x2="135.4" y2="615.5"/><line x1="137.6" y1="607.5" x2="137.6" y2="615.5"/><line x1="139.8" y1="607.5" x2="139.8" y2="615.5"/><line x1="142.0" y1="607.5" x2="142.0" y2="615.5"/><line x1="144.2" y1="607.5" x2="144.2" y2="615.5"/><line x1="146.4" y1="607.5" x2="146.4" y2="615.5"/></g>
<text x="140.3" y="640" font-size="10.2" textLength="17" lengthAdjust="spacingAndGlyphs" text-anchor="middle" fill="#1a1a1a" stroke="#1a1a1a" stroke-width="0.35">VCZ</text>
</svg>
</body></html>
